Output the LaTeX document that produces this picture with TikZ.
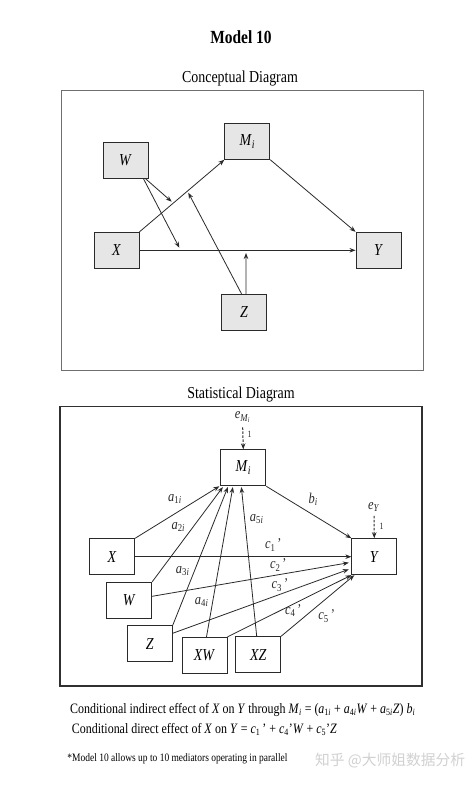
\documentclass[tikz,border=0pt]{standalone}
\usepackage{fontspec}
\setmainfont{Liberation Serif}
\newfontfamily\cjk{Noto Sans CJK SC}
\usepackage{graphicx}
\usetikzlibrary{arrows.meta}
\definecolor{boxfill}{HTML}{E6E6E6}
\definecolor{ink}{HTML}{2A2A2A}
\definecolor{frameA}{HTML}{707070}
\definecolor{frameB}{HTML}{303030}
\newcommand\vs[1]{\scalebox{1}[1.2]{#1}}
\tikzset{
 cbox/.style={draw=ink, fill=boxfill, line width=0.9bp, minimum width=45bp, minimum height=36bp, inner sep=0pt, font=\fontsize{14}{14}\selectfont},
 sbox/.style={draw=ink, fill=white, line width=0.9bp, minimum width=45bp, minimum height=36bp, inner sep=0pt, font=\fontsize{14}{14}\selectfont},
 arr/.style={draw=ink, line width=0.8bp, -{Stealth[length=6bp,width=4.5bp]}},
 darr/.style={arr, line width=1bp, dashed, dash pattern=on 2.5bp off 1.5bp},
 lbl/.style={inner sep=0pt, text=ink, font=\fontsize{12.5}{12.5}\selectfont},
 one/.style={inner sep=0pt, text=ink, font=\fontsize{8}{8}\selectfont},
 txt/.style={inner sep=0pt, anchor=base west, font=\fontsize{12}{13}\selectfont},
 head/.style={inner sep=0pt, anchor=base, font=\fontsize{14}{14}\selectfont},
}
\begin{document}
\begin{tikzpicture}[x=1bp,y=-1bp]
\useasboundingbox (0,0) rectangle (475,792);
\fill[white] (0,0) rectangle (475,792);
% titles
\node[head, font=\bfseries\fontsize{15.5}{16}\selectfont] (title) at (241,43.3) {\vs{Model 10}};
\node[head] (ctitle) at (240,82.3) {\vs{Conceptual Diagram}};
\node[head] (stitle) at (241,398.5) {\vs{Statistical Diagram}};
% frames
\draw[draw=frameA, line width=1.5bp] (61.3,90.7) rectangle (423.7,370.7);
\draw[draw=frameB, line width=1.3bp] (60,406.7) rectangle (422,686);
% conceptual nodes
\node[cbox] (cM) at (247.3,141.3) {\vs{\textit{M}\textsubscript{\textit{i}}}};
\node[cbox] (cW) at (125.5,160.2) {\vs{\textit{W}}};
\node[cbox] (cX) at (116.5,250.3) {\vs{\textit{X}}};
\node[cbox] (cY) at (378.5,250.3) {\vs{\textit{Y}}};
\node[cbox] (cZ) at (244,312.2) {\vs{\textit{Z}}};
\coordinate (wa) at (171.7,201.7);
\coordinate (wb) at (179.3,247.7);
\coordinate (za) at (246,253);
\coordinate (zb) at (188.3,192.7);
\draw[arr] (cX.north east) -- (cM.south west);
\draw[arr] (cM.south east) -- (cY.north west);
\draw[arr] (cX.east) -- (cY.west);
\draw[arr] ([xshift=-3bp]cW.south east) -- (wa);
\draw[arr] ([xshift=-5bp]cW.south east) -- (wb);
\draw[arr] ([xshift=2bp]cZ.north) -- (za);
\draw[arr] ([xshift=-2.5bp]cZ.north) -- (zb);
% statistical nodes
\node[sbox] (M) at (243.3,467.8) {\vs{\textit{M}\textsubscript{\textit{i}}}};
\node[sbox] (Y) at (374.3,556.7) {\vs{\textit{Y}}};
\node[sbox] (X) at (112.2,556.7) {\vs{\textit{X}}};
\node[sbox] (W) at (129.2,600.3) {\vs{\textit{W}}};
\node[sbox] (Z) at (149.8,643.7) {\vs{\textit{Z}}};
\node[sbox] (XW) at (204.5,655.3) {\vs{\textit{XW}}};
\node[sbox] (XZ) at (258.2,654.7) {\vs{\textit{XZ}}};
% error terms
\node[lbl] (eM) at (242.7,417) {\vs{\textit{e}\textsubscript{\textit{M}\textsubscript{\textit{i}}}}};
\node[lbl] (eY) at (374,507) {\vs{\textit{e}\textsubscript{\textit{Y}}}};
\draw[darr] ([yshift=-5bp]eM.south) -- (M.north);
\draw[darr] ([yshift=-4bp]eY.south) -- (Y.north);
\node[one] (oneM) at (249.5,434.5) {\vs{1}};
\node[one] (oneY) at (381.7,526) {\vs{1}};
% paths to M
\draw[arr] (X.north east) -- ([xshift=-1bp]M.south west);
\draw[arr] (W.north east) -- ([xshift=2.5bp,yshift=-0.8bp]M.south west);
\draw[arr] (Z.north east) -- ([xshift=7.5bp,yshift=-0.8bp]M.south west);
\draw[arr] ([xshift=2bp]XW.north) -- ([xshift=12.5bp,yshift=-0.8bp]M.south west);
\draw[arr] ([xshift=-1.5bp]XZ.north) -- ([xshift=21bp,yshift=-0.8bp]M.south west);
% paths to Y
\draw[arr] (M.south east) -- (Y.north west);
\draw[arr] (X.east) -- (Y.west);
\draw[arr] ([yshift=4bp]W.east) -- ([xshift=-2.5bp,yshift=-6bp]Y.west);
\draw[arr] ([yshift=-8bp]Z.north east) -- ([xshift=-2.5bp,yshift=-12.6bp]Y.west);
\draw[arr] (XW.north east) -- (Y.south west);
\draw[arr] (XZ.north east) -- ([xshift=3bp]Y.south west);
% path labels
\node[lbl] (la1) at (175,499) {\vs{\textit{a}\textsubscript{1\textit{i}}}};
\node[lbl] (la2) at (178.3,526.7) {\vs{\textit{a}\textsubscript{2\textit{i}}}};
\node[lbl] (la3) at (182.7,570.7) {\vs{\textit{a}\textsubscript{3\textit{i}}}};
\node[lbl] (la4) at (201.7,601.7) {\vs{\textit{a}\textsubscript{4\textit{i}}}};
\node[lbl] (la5) at (256.7,519.3) {\vs{\textit{a}\textsubscript{5\textit{i}}}};
\node[lbl] (lb) at (313.3,499) {\vs{\textit{b}\textsubscript{\textit{i}}}};
\node[lbl] (lc1) at (273.3,545) {\vs{\textit{c}\textsubscript{1}\,'}};
\node[lbl] (lc2) at (278.3,565) {\vs{\textit{c}\textsubscript{2}\,'}};
\node[lbl] (lc3) at (280,585) {\vs{\textit{c}\textsubscript{3}\,'}};
\node[lbl] (lc4) at (293.3,610.7) {\vs{\textit{c}\textsubscript{4}\,'}};
\node[lbl] (lc5) at (326.7,616) {\vs{\textit{c}\textsubscript{5}\,'}};
% bottom text
\node[txt] (t1) at (70,713) {\vs{Conditional indirect effect of \textit{X} on \textit{Y} through \textit{M}\textsubscript{\textit{i}} = (\textit{a}\textsubscript{1\textit{i}} + \textit{a}\textsubscript{4\textit{i}}\textit{W} + \textit{a}\textsubscript{5\textit{i}}\textit{Z}) \textit{b}\textsubscript{\textit{i}}}};
\node[txt] (t2) at (71.7,733) {\vs{Conditional direct effect of \textit{X} on \textit{Y} = \textit{c}\textsubscript{1}\,' + \textit{c}\textsubscript{4}'\textit{W} + \textit{c}\textsubscript{5}'\textit{Z}}};
\node[txt, font=\fontsize{9.5}{10}\selectfont] (t3) at (67.3,761.5) {\vs{*Model 10 allows up to 10 mediators operating in parallel}};
\node[txt, font=\cjk\fontsize{14.8}{15}\selectfont, text=black!18] (wm) at (315,765) {知乎 @大师姐数据分析};
\end{tikzpicture}
\end{document}
